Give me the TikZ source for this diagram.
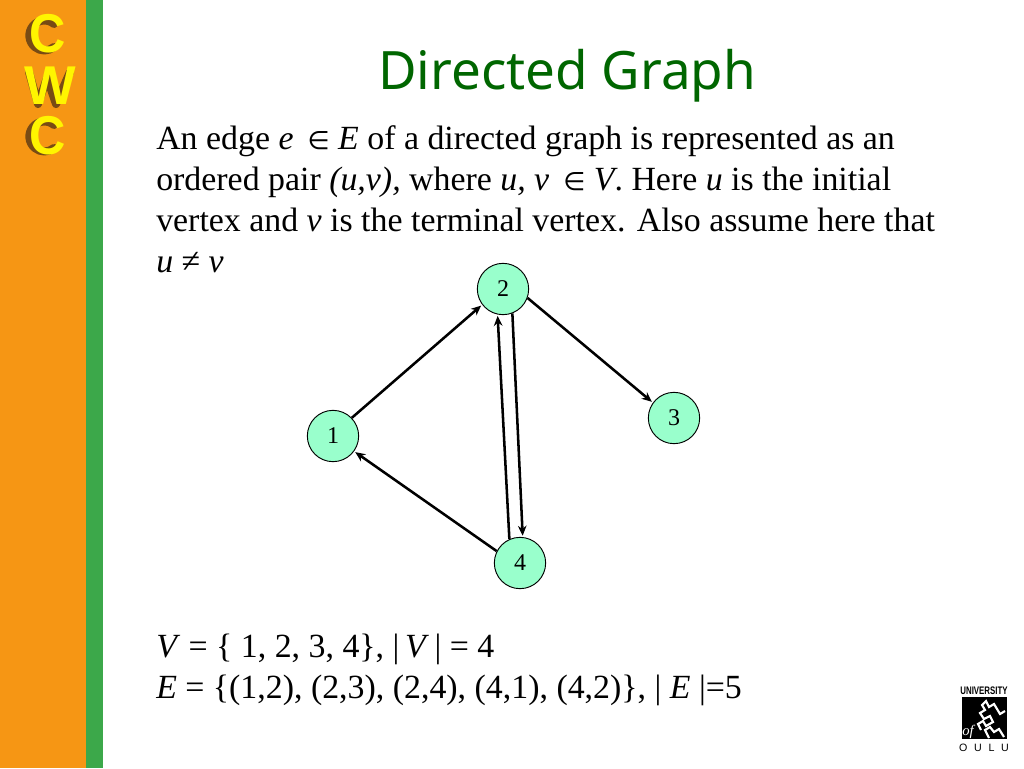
\documentclass[tikz,border=0pt]{standalone}
\usepackage{fontspec}
\setmainfont{Liberation Serif}
\newfontfamily\titlefont{Noto Sans}
\newfontfamily\headfont{Liberation Sans}
\newfontfamily\symbfont{DejaVu Sans}
\usepackage{tikz}
\usetikzlibrary{positioning,arrows.meta}
\definecolor{bandorange}{RGB}{246,150,20}
\definecolor{bandgreen}{RGB}{60,168,74}
\definecolor{titlegreen}{RGB}{0,102,0}
\definecolor{vertexfill}{RGB}{153,255,204}
\definecolor{cwcyellow}{RGB}{255,245,0}
\definecolor{cwcshade}{RGB}{120,75,20}
\tikzstyle{vertex} = [circle, minimum size=38.5pt, inner sep=0pt, draw=black, line width=0.7pt, fill=vertexfill, font=\fontsize{18pt}{20pt}\selectfont]
\tikzstyle{arrow} = [line width=1.9pt,-{Stealth[length=7.5pt,width=6.5pt]},shorten >=1pt]
\tikzstyle{textline} = [anchor=base west, inner sep=0pt, font=\fontsize{25.4pt}{30pt}\selectfont]
\tikzstyle{cwc} = [inner sep=0pt, text=cwcyellow, font=\headfont\bfseries\fontsize{41pt}{44pt}\selectfont]
\tikzstyle{shade} = [draw=cwcshade, line width=6pt, line cap=round, line join=round]
\tikzstyle{keyline} = [white, line width=1.6pt]
\newcommand{\member}{{\symbfont\fontsize{19pt}{20pt}\selectfont ∈}}
\begin{document}
\begin{tikzpicture}[x=0.75pt,y=-0.75pt,node distance=127.5pt]
  \useasboundingbox (0,0) rectangle (1024,768);
  \fill [white] (0,0) rectangle (1024,768);
  \fill [bandorange] (0,0) rectangle (86,768);
  \fill [bandgreen] (86,0) rectangle (103,768);

  % side letters
  \draw [shade] (54,24) arc (-50:-310:15);
  \draw [shade] (29,72) -- (38,104) -- (47,78) -- (56,104) -- (70,72);
  \draw [shade] (54,125) arc (-50:-310:15);
  \node (lettera) [cwc, xscale=0.92] at (48,34) {C};
  \node (letterb) [cwc] at (50,86) {W};
  \node (letterc) [cwc, xscale=0.92] at (48,136) {C};

  \node (title) [inner sep=0pt, text=titlegreen, font=\titlefont\fontsize{39.7pt}{44pt}\selectfont] at (567,76) {Directed Graph};

  \node (linea) [textline] at (156,149) {An edge \textit{e} \,\member\ \textit{E} of a directed graph is represented as an};
  \node (lineb) [textline] at (156,190) {ordered pair \textit{(u,v),} where \textit{u, v} \,\member\ \textit{V}. Here \textit{u} is the initial};
  \node (linec) [textline] at (156,231) {vertex and \textit{v} is the terminal vertex. Also assume here that};
  \node (lined) [textline] at (156,272) {\textit{u} ≠ \textit{v}};
  \node (linee) [textline] at (156,657) {\textit{V} = \{ 1, 2, 3, 4\}, |\,\textit{V}\,| = 4};
  \node (linef) [textline] at (156,698) {\textit{E} = \{(1,2), (2,3), (2,4), (4,1), (4,2)\}, | \textit{E} |=5};

  % graph
  \node (one) [vertex] at (333,436) {1};
  \node (two) [vertex, right of=one, xshift=0pt, yshift=110.25pt] {2};
  \node (three) [vertex, right of=two, xshift=0.75pt, yshift=-96.75pt] {3};
  \node (four) [vertex, below of=two, xshift=12.75pt, yshift=-78pt] {4};
  \draw [arrow] (one.44) -- (two.217);
  \draw [arrow] (two.-20) -- (three.144);
  \draw [arrow] (two.-69) -- (four.84);
  \draw [arrow] (four.114) -- (two.-102);
  \draw [arrow] (four.153) -- (one.-36);

  % logo
  \node (logotop) [inner sep=0pt, font=\headfont\bfseries\fontsize{8.2pt}{9pt}\selectfont, xscale=0.72] at (984,691) {UNIVERSITY};
  \node (logobox) [fill=black, inner sep=0pt, minimum width=33.5pt, minimum height=32pt] at (984.5,718) {};
  \draw [keyline] (1005,711) -- (1000,714) -- (994,704) -- (989,707) -- (986,701) -- (982,705) -- (985,710) -- (980,713) -- (984,719) -- (990,716) -- (993,722) -- (986,726) -- (983,721) -- (978,724) -- (981,730);
  \draw [keyline] (1004,737) -- (999,729) -- (994,732) -- (990,727) -- (985,730) -- (989,738);
  \node (logoof) [inner sep=0pt, text=white, font=\itshape\fontsize{11pt}{12pt}\selectfont] at (968,732) {of};
  \node (logobot) [inner sep=0pt, font=\headfont\fontsize{8pt}{9pt}\selectfont] at (984,748) {O\hspace{5pt}U\hspace{5pt}L\hspace{5pt}U};
\end{tikzpicture}
\end{document}
